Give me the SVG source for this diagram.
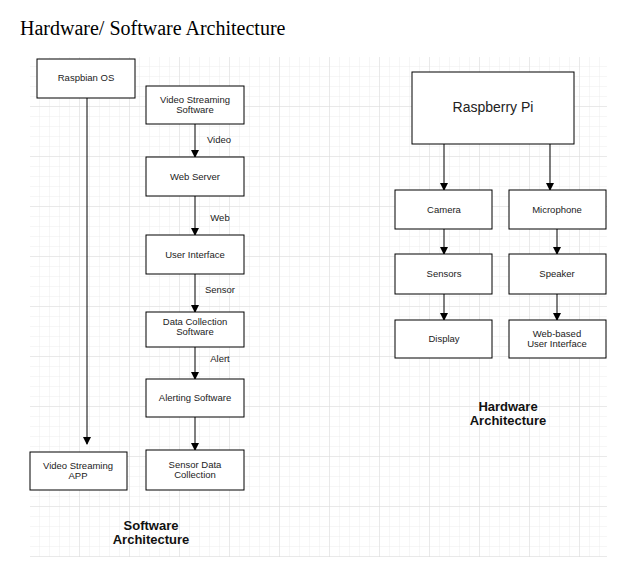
<svg xmlns="http://www.w3.org/2000/svg" width="627" height="564" viewBox="0 0 627 564">
<defs>
<pattern id="g" x="30" y="57" width="10" height="10" patternUnits="userSpaceOnUse"><path d="M10 0V10H0" fill="none" stroke="#ececec" stroke-width="1"/></pattern>
<pattern id="G" x="30" y="57" width="50" height="50" patternUnits="userSpaceOnUse"><path d="M50 0V50H0" fill="none" stroke="#dcdcdc" stroke-width="1"/></pattern>
<marker id="a" markerWidth="8" markerHeight="8" refX="7" refY="4" orient="auto" markerUnits="userSpaceOnUse"><path d="M0 0L8 4L0 8Z" fill="#000"/></marker>
</defs>
<style>
.n rect{fill:#fff;stroke:#000;stroke-width:1}
.n text,.l{font-family:"Liberation Sans",Arial,sans-serif;font-size:9.5px;fill:#222;text-anchor:middle}
.c line{stroke:#000;stroke-width:1;marker-end:url(#a)}
.t{font-family:"Liberation Sans",Arial,sans-serif;font-weight:bold;font-size:13px;text-anchor:middle;fill:#111}
</style>
<rect width="627" height="564" fill="#fff"/>
<rect x="30" y="57" width="577" height="500" fill="url(#g)"/>
<rect x="30" y="57" width="577" height="500" fill="url(#G)"/>
<text x="20" y="35" font-family="Liberation Serif,serif" font-size="20" fill="#000">Hardware/ Software Architecture</text>
<g class="c">
<line x1="87" y1="98" x2="87" y2="444"/>
<line x1="195" y1="124" x2="195" y2="157"/>
<line x1="195" y1="196" x2="195" y2="235"/>
<line x1="195" y1="274" x2="195" y2="312"/>
<line x1="195" y1="347" x2="195" y2="379"/>
<line x1="195" y1="417" x2="195" y2="450"/>
<line x1="444" y1="144" x2="444" y2="190"/>
<line x1="550" y1="144" x2="550" y2="190"/>
<line x1="444" y1="229" x2="444" y2="254"/>
<line x1="557" y1="229" x2="557" y2="254"/>
<line x1="444" y1="294" x2="444" y2="320"/>
<line x1="557" y1="294" x2="557" y2="320"/>
</g>
<text class="l" x="219" y="143">Video</text>
<text class="l" x="220" y="221">Web</text>
<text class="l" x="220" y="293">Sensor</text>
<text class="l" x="220" y="362">Alert</text>
<g id="raspbian" class="n"><rect x="37" y="59" width="98" height="39"/><text x="86" y="81">Raspbian OS</text></g>
<g id="vss" class="n"><rect x="146" y="86" width="98" height="38"/><text x="195" y="103">Video Streaming</text><text x="195" y="113">Software</text></g>
<g id="web" class="n"><rect x="146" y="157" width="98" height="39"/><text x="195" y="180">Web Server</text></g>
<g id="ui" class="n"><rect x="146" y="235" width="98" height="39"/><text x="195" y="258">User Interface</text></g>
<g id="dcs" class="n"><rect x="146" y="312" width="98" height="35"/><text x="195" y="325">Data Collection</text><text x="195" y="335">Software</text></g>
<g id="alert" class="n"><rect x="146" y="379" width="98" height="38"/><text x="195" y="401">Alerting Software</text></g>
<g id="sdc" class="n"><rect x="146" y="450" width="98" height="40"/><text x="195" y="468">Sensor Data</text><text x="195" y="478">Collection</text></g>
<g id="vsa" class="n"><rect x="30" y="452" width="97" height="38"/><text x="78" y="469">Video Streaming</text><text x="78" y="479">APP</text></g>
<g id="rpi" class="n"><rect x="412" y="72" width="162" height="72"/><text x="493" y="112" style="font-size:14px">Raspberry Pi</text></g>
<g id="cam" class="n"><rect x="395" y="190" width="97" height="39"/><text x="444" y="213">Camera</text></g>
<g id="mic" class="n"><rect x="509" y="190" width="97" height="39"/><text x="557" y="213">Microphone</text></g>
<g id="sens" class="n"><rect x="395" y="254" width="97" height="40"/><text x="444" y="277">Sensors</text></g>
<g id="spk" class="n"><rect x="509" y="254" width="97" height="40"/><text x="557" y="277">Speaker</text></g>
<g id="disp" class="n"><rect x="395" y="320" width="97" height="38"/><text x="444" y="342">Display</text></g>
<g id="wbui" class="n"><rect x="509" y="320" width="97" height="38"/><text x="557" y="337">Web-based</text><text x="557" y="347">User Interface</text></g>
<text class="t" x="508" y="411">Hardware</text>
<text class="t" x="508" y="425">Architecture</text>
<text class="t" x="151" y="530">Software</text>
<text class="t" x="151" y="544">Architecture</text>
</svg>
